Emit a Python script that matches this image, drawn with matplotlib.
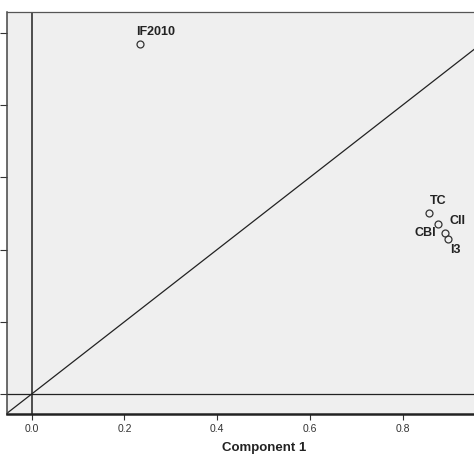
import matplotlib.pyplot as plt

plt.rcParams['font.family'] = ['Liberation Sans', 'DejaVu Sans']

# component loadings
labels = ["IF2010", "TC", "CII", "CBI", "I3"]
comp1 = [0.234, 0.857, 0.877, 0.892, 0.898]
comp2 = [0.968, 0.501, 0.471, 0.445, 0.429]
# label offsets in pixels (dx, dy) relative to each point
label_offsets = [(-4, 12), (9, 12), (19, 3), (-20, 0), (7, -11)]
label_align = ["left", "center", "center", "center", "center"]

x_ticks = [0.0, 0.2, 0.4, 0.6, 0.8]
y_ticks = [0.0, 0.2, 0.4, 0.6, 0.8, 1.0]

W = H = 474
fig = plt.figure(figsize=(W / 100, H / 100), dpi=100)
left_px, top_px, bottom_px = 7, 12, 414
xmin, xmax = -0.0533, 1.0
ymin, ymax = -0.0554, 1.058
px_per_x = 463.5
ax = fig.add_axes([left_px / W, (H - bottom_px) / H,
                   (xmax - xmin) * px_per_x / W, (bottom_px - top_px) / H])
ax.set_facecolor("#efefef")
ax.set_xlim(xmin, xmax)
ax.set_ylim(ymin, ymax)

# reference lines
ax.axhline(0, color="#222222", lw=0.9, zorder=1)
ax.axvline(0, color="#222222", lw=1.1, zorder=1)
ax.axline((0, 0), slope=1, color="#222222", lw=0.9, zorder=1)

ax.plot(comp1, comp2, linestyle="none", marker="o", markersize=5,
        markerfacecolor="none", markeredgecolor="#333333", markeredgewidth=0.9, zorder=3)

for lab, x, y, (dx, dy), ha in zip(labels, comp1, comp2, label_offsets, label_align):
    ax.annotate(lab, (x, y), xytext=(dx, dy), textcoords="offset pixels",
                ha=ha, va="center", fontsize=9, fontweight="bold", color="#222222")

ax.set_xticks(x_ticks)
ax.set_xticklabels([f"{t:.1f}" for t in x_ticks])
ax.set_yticks(y_ticks)
ax.tick_params(axis="x", length=4.5, width=0.8, colors="#333333", labelsize=7.5, pad=3)
ax.tick_params(axis="y", length=5, width=0.8, colors="#333333", labelleft=False)

ax.set_xlabel("Component 1", fontsize=9.5, fontweight="bold", color="#222222", labelpad=9)

ax.spines["top"].set_color("#555555")
ax.spines["top"].set_linewidth(0.9)
ax.spines["left"].set_color("#444444")
ax.spines["left"].set_linewidth(1.1)
ax.spines["bottom"].set_color("#222222")
ax.spines["bottom"].set_linewidth(1.8)
ax.spines["right"].set_visible(False)

# centre the x label under the visible part of the figure
ax.xaxis.set_label_coords((264 - left_px) / ((xmax - xmin) * px_per_x), -0.07)

fig.savefig("out.png", dpi=100, facecolor="white")
